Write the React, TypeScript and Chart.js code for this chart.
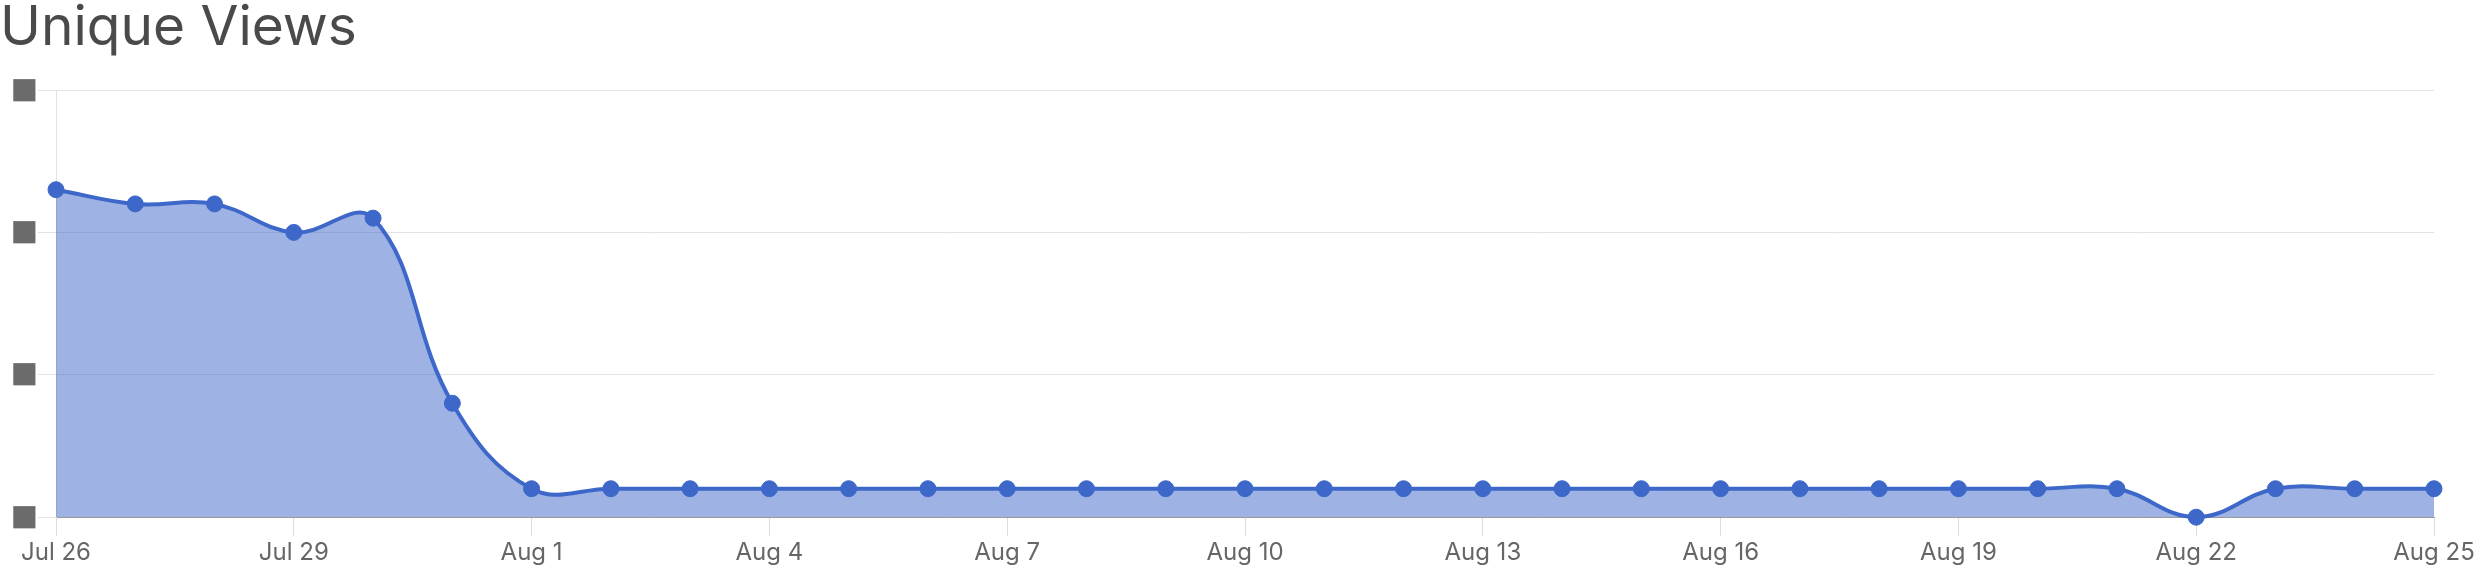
import React, { useEffect, useRef } from "react";
import { Chart, registerables } from "chart.js";

Chart.register(...registerables);

const categories: string[] = [
  "Jul 26", "Jul 27", "Jul 28", "Jul 29", "Jul 30", "Jul 31",
  "Aug 1", "Aug 2", "Aug 3", "Aug 4", "Aug 5", "Aug 6", "Aug 7", "Aug 8",
  "Aug 9", "Aug 10", "Aug 11", "Aug 12", "Aug 13", "Aug 14", "Aug 15",
  "Aug 16", "Aug 17", "Aug 18", "Aug 19", "Aug 20", "Aug 21", "Aug 22",
  "Aug 23", "Aug 24", "Aug 25",
];

const uniqueViews: number[] = [
  23, 22, 22, 20, 21, 8,
  2, 2, 2, 2, 2, 2, 2, 2,
  2, 2, 2, 2, 2, 2, 2,
  2, 2, 2, 2, 2, 2, 0,
  2, 2, 2,
];

const yTickValues: number[] = [0, 10, 20, 30];
const yTickLabel = "■";
const titleText = "Unique Views";

export default function App() {
  const canvasRef = useRef<HTMLCanvasElement | null>(null);

  useEffect(() => {
    const canvas = canvasRef.current;
    if (!canvas) return;
    const chart = new Chart(canvas, {
      type: "line",
      data: {
        labels: categories,
        datasets: [
          {
            label: titleText,
            data: uniqueViews,
            borderColor: "#3d68c9",
            backgroundColor: "rgba(61,104,201,0.5)",
            pointBackgroundColor: "#3d68c9",
            pointBorderColor: "#3d68c9",
            pointRadius: 8,
            pointBorderWidth: 1,
            borderWidth: 4,
            tension: 0.4,
            fill: "origin",
            clip: false as any,
          },
        ],
      },
      options: {
        animation: false,
        responsive: false,
        maintainAspectRatio: false,
        layout: { padding: { left: 0, right: 48, top: 0, bottom: 17 } },
        plugins: {
          legend: { display: false },
          tooltip: { enabled: false },
          title: {
            display: true,
            text: titleText,
            align: "start",
            color: "#4a4a4a",
            font: { family: "Inter", size: 55, weight: "normal", lineHeight: 0.8 },
            padding: { top: 6, bottom: 40 },
          },
        },
        scales: {
          x: {
            offset: false,
            grid: {
              display: true,
              drawOnChartArea: false,
              drawTicks: true,
              tickLength: 19,
              color: "#dddddd",
            },
            border: { display: true, color: "#9a9a9a", width: 1 },
            ticks: {
              autoSkip: false,
              maxRotation: 0,
              minRotation: 0,
              padding: 2,
              color: "#666666",
              font: { family: "Inter", size: 24 },
              callback: (_v: any, i: number) => (i % 3 === 0 ? categories[i] : null),
            },
          },
          y: {
            min: yTickValues[0],
            max: yTickValues[yTickValues.length - 1],
            afterFit: (scale: any) => {
              scale.width = 56;
            },
            grid: {
              color: "#e2e2e2",
              tickLength: 18,
              drawTicks: true,
            },
            border: { display: true, color: "#e2e2e2" },
            ticks: {
              stepSize: 10,
              padding: 0,
              color: "#6b6b6b",
              font: { family: "DejaVu Sans", size: 29 },
              callback: () => yTickLabel,
            },
          },
        },
      },
    });
    return () => chart.destroy();
  }, []);

  return (
    <div style={{ position: "fixed", left: 0, top: 0, width: 2482, height: 586, background: "#fff" }}>
      <canvas ref={canvasRef} width={2482} height={586} style={{ width: 2482, height: 586, display: "block" }} />
    </div>
  );
}
